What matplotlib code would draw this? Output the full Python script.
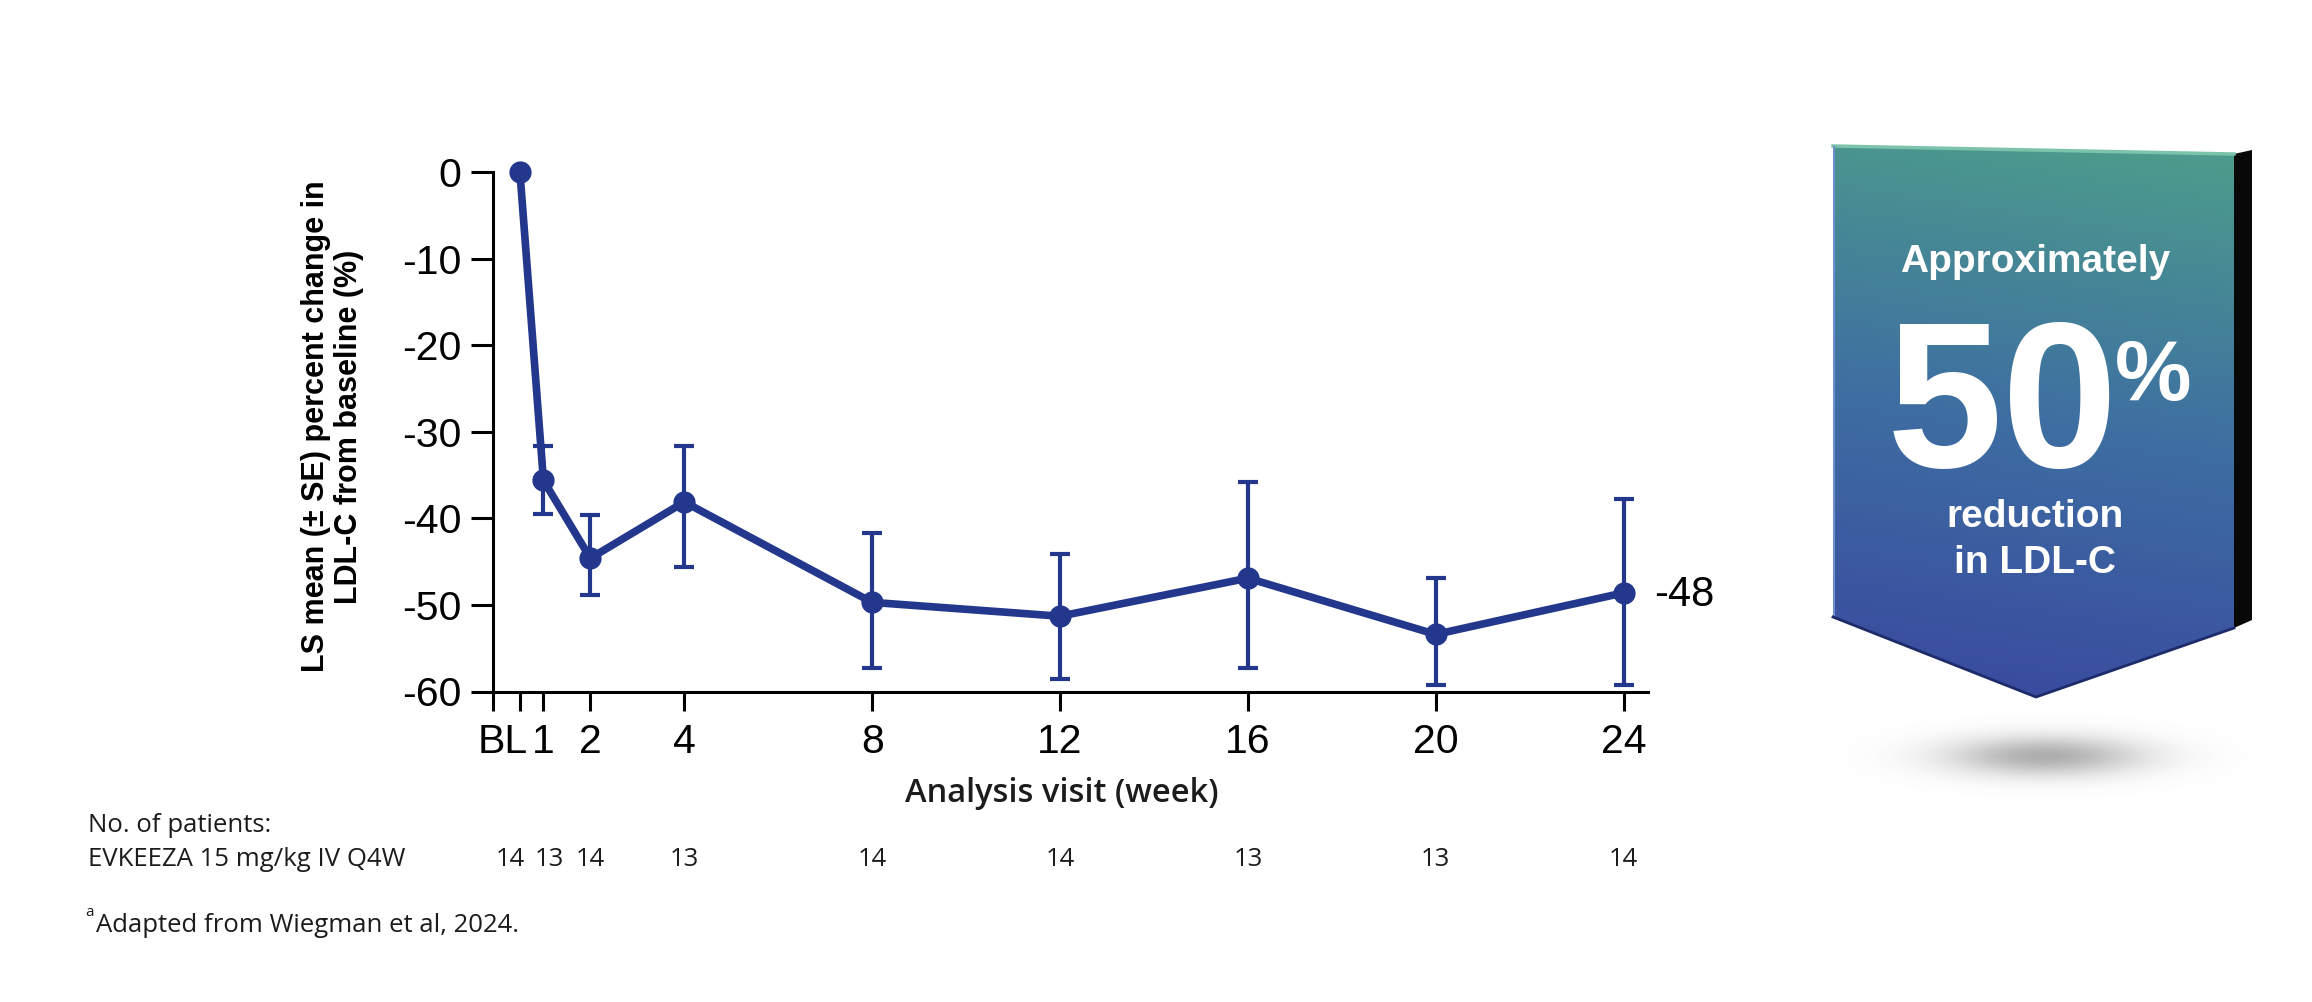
import numpy as np
import matplotlib
matplotlib.use("Agg")
import matplotlib.pyplot as plt
from matplotlib.patches import Polygon
from matplotlib.transforms import blended_transform_factory, ScaledTranslation

plt.rcParams['axes.unicode_minus'] = False
plt.rcParams['font.family'] = ['Liberation Sans', 'DejaVu Sans']

# data
visit_labels = ["BL", "1", "2", "4", "8", "12", "16", "20", "24"]
visit_weeks = [0.5, 1, 2, 4, 8, 12, 16, 20, 24]
ls_mean = [0, -35.6, -44.6, -38.1, -49.7, -51.3, -46.9, -53.4, -48.6]
se_top = [0, -31.6, -39.6, -31.6, -41.7, -44.1, -35.8, -46.9, -37.8]
se_bottom = [0, -39.5, -48.9, -45.6, -57.3, -58.5, -57.3, -59.3, -59.2]
n_patients = [14, 13, 14, 13, 14, 14, 13, 13, 14]
y_ticks = [0, -10, -20, -30, -40, -50, -60]
final_label = "-48"

W, H = 2312, 1002
BLUE = '#23378C'
TXT = '#1c1c1c'

fig = plt.figure(figsize=(W / 100, H / 100), dpi=100)

# full-figure pixel canvas for the badge
bg = fig.add_axes([0, 0, 1, 1], zorder=0)
bg.axis('off')

ax = fig.add_axes([492.7 / W, 1 - 691.5 / H, (1648 - 492.7) / W, (691.5 - 172.3) / H], zorder=2)
ax.patch.set_alpha(0)

mean = np.array(ls_mean)
err = [mean[1:] - np.array(se_bottom[1:]), np.array(se_top[1:]) - mean[1:]]
ax.errorbar(visit_weeks[1:], mean[1:], yerr=err, fmt='none', ecolor=BLUE,
            elinewidth=3, capsize=7.5, capthick=3, zorder=3, clip_on=False)
ax.plot(visit_weeks, ls_mean, color=BLUE, lw=5.5, marker='o', ms=15,
        clip_on=False, zorder=4)

ax.set_xlim(-0.08, 24.52)
ax.set_ylim(-60, 0)
ax.set_xticks([-0.08] + visit_weeks, [''] + visit_labels)
ax.set_yticks(y_ticks, [str(v) for v in y_ticks])
for s in ['top', 'right']:
    ax.spines[s].set_visible(False)
for s in ['left', 'bottom']:
    ax.spines[s].set_linewidth(2.2)
ax.tick_params(axis='y', length=16, width=2.2, pad=6.5, labelsize=29.5)
ax.tick_params(axis='x', length=14, width=2.2, pad=9, labelsize=29.5)

# "BL" sits a little left of its tick in the original
bl = ax.get_xticklabels()[1]
bl.set_transform(bl.get_transform() + ScaledTranslation(-0.17, 0, fig.dpi_scale_trans))

ax.annotate(final_label, (visit_weeks[-1], ls_mean[-1]), xytext=(22, -1.5),
            textcoords='offset points', ha='left', va='center', fontsize=30)

fig.text(332.5 / W, 1 - 426.5 / H, "LS mean (± SE) percent change in\nLDL-C from baseline (%)",
         rotation=90, ha='center', va='center', multialignment='center',
         fontsize=22, fontweight='bold', linespacing=1.15)

fig.text(1062 / W, 1 - 793 / H, "Analysis visit (week)", ha='center', va='center',
         family=['Open Sans', 'DejaVu Sans'], fontweight='semibold', fontsize=23.5, color=TXT)

# patients at risk
fs = 18.5
bottom_font = ['Open Sans', 'DejaVu Sans']
fig.text(88 / W, 1 - 825 / H, "No. of patients:", ha='left', va='center',
         family=bottom_font, fontsize=fs, color=TXT)
fig.text(88 / W, 1 - 860 / H, "EVKEEZA 15 mg/kg IV Q4W", ha='left', va='center',
         family=bottom_font, fontsize=fs, color=TXT)
trans = blended_transform_factory(ax.transData, fig.transFigure)
nudge_px = {0: -10, 1: 6}
for i, (w, n) in enumerate(zip(visit_weeks, n_patients)):
    t = ax.text(w, 1 - 860 / H, str(n), transform=trans, ha='center', va='center',
                family=bottom_font, fontsize=fs, color=TXT)
    if i in nudge_px:
        t.set_transform(trans + ScaledTranslation(nudge_px[i] / 100, 0, fig.dpi_scale_trans))
fig.text(85 / W, 1 - 912 / H, "a", ha='left', va='center',
         family=bottom_font, fontsize=11, color=TXT)
fig.text(96 / W, 1 - 926 / H, "Adapted from Wiegman et al, 2024.", ha='left', va='center',
         family=bottom_font, fontsize=fs, color=TXT)

# badge
face = [(1833, 146), (2234, 154), (2234, 628), (2036, 697), (1833, 617)]
yy, xx = np.mgrid[0:1:300j, 0:1:200j]
tt = np.clip(yy * 0.9 + (1 - xx) * 0.1, 0, 1)
stops = [0, 0.5, 1]
c0, c1, c2 = np.array([0x4D, 0x9E, 0x8B]), np.array([0x3E, 0x6E, 0xA2]), np.array([0x39, 0x48, 0x9F])
grad = np.zeros(tt.shape + (3,))
for k in range(3):
    grad[..., k] = np.interp(tt, stops, [c0[k], c1[k], c2[k]]) / 255
im = bg.imshow(grad, extent=(1833, 2234, 697, 146), aspect='auto', zorder=1, interpolation='bilinear')
poly = Polygon(face, closed=True, facecolor='none', edgecolor='none')
bg.add_patch(poly)
im.set_clip_path(poly)
bg.add_patch(Polygon([(2234, 154), (2252, 150), (2252, 620), (2234, 628)],
                     closed=True, facecolor='#080808', edgecolor='none', zorder=2))
bg.plot([1833, 2234], [146, 154], color='#7CC3AC', lw=2.5, zorder=3)
bg.plot([1834, 1834], [147, 616], color='#6B8FCF', lw=1.5, zorder=3)
bg.plot([1833, 2036, 2234], [617, 697, 628], color='#1E2B6A', lw=2, zorder=3)

# shadow under the badge
sy, sx = np.mgrid[680:840:160j, 1800:2290:490j]
alpha = 0.55 * np.exp(-0.5 * (((sx - 2045) / 68) ** 2 + ((sy - 756) / 14) ** 2))
shadow = np.zeros(sx.shape + (4,))
shadow[..., :3] = 0.42
shadow[..., 3] = alpha
bg.imshow(shadow, extent=(1800, 2290, 840, 680), aspect='auto', zorder=1, interpolation='bilinear')

bg.set_xlim(0, W)
bg.set_ylim(H, 0)

bfont = dict(color='white', fontweight='bold', ha='center', va='baseline')
bg.text(2035, 272, "Approximately", fontsize=28, zorder=5, **bfont)
bg.text(2002, 467, "50", fontsize=150, zorder=5, **bfont)
bg.text(2153, 400, "%", fontsize=62, zorder=5, **bfont)
bg.text(2035, 527, "reduction", fontsize=28, zorder=5, **bfont)
bg.text(2035, 573, "in LDL-C", fontsize=28, zorder=5, **bfont)

fig.savefig('out.png', dpi=100)
